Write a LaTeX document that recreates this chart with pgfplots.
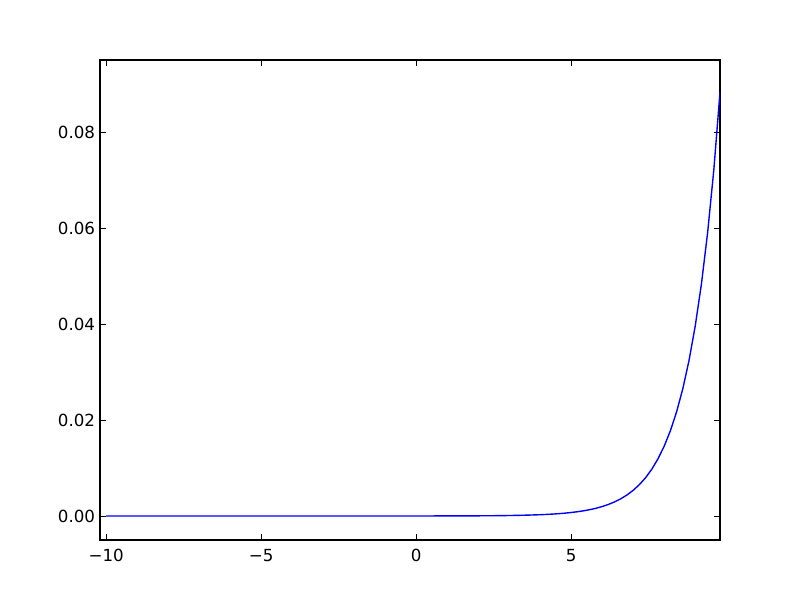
\documentclass[border=0pt]{standalone}
\usepackage{pgfplots}
\pgfplotsset{compat=1.18}
\usepackage{fontspec}
\setmainfont{DejaVu Sans}

\begin{document}
\begin{tikzpicture}
  \begin{axis}[
      scale only axis,
      width=446.4pt, height=345.6pt,
      xmin=-10.2, xmax=9.8,
      ymin=-0.005, ymax=0.095,
      xtick={-10,-5,0,5},
      xticklabels={−10,−5,0,5},
      ytick={0,0.02,0.04,0.06,0.08},
      tick align=inside,
      tick pos=both,
      major tick length=4pt,
      axis line style={line width=0.8pt},
      tick style={black, line width=0.6pt},
      tick label style={font=\fontsize{12}{14}\selectfont},
      xticklabel style={yshift=-3pt},
      /pgf/number format/assume math mode=true,
      yticklabel style={/pgf/number format/.cd, fixed, fixed zerofill, precision=2},
      scaled y ticks=false,
    ]
    \addplot[color=blue, line width=1pt] coordinates {
      (-10.0, 0.000000)
      (-5.0, 0.0000000)
      (0.0, 0.000005)
      (1.0, 0.000013)
      (2.0, 0.000036)
      (2.4, 0.000054)
      (2.8, 0.000080)
      (3.2, 0.000120)
      (3.6, 0.000178)
      (4.0, 0.000266)
      (4.2, 0.000325)
      (4.4, 0.000397)
      (4.6, 0.000485)
      (4.8, 0.000593)
      (5.0, 0.000724)
      (5.2, 0.000885)
      (5.4, 0.001080)
      (5.6, 0.001319)
      (5.8, 0.001612)
      (6.0, 0.001969)
      (6.2, 0.002404)
      (6.4, 0.002937)
      (6.6, 0.003587)
      (6.8, 0.004381)
      (7.0, 0.005351)
      (7.2, 0.006536)
      (7.4, 0.007983)
      (7.6, 0.009750)
      (7.8, 0.011909)
      (8.0, 0.014546)
      (8.2, 0.017767)
      (8.4, 0.021700)
      (8.6, 0.026505)
      (8.8, 0.032373)
      (9.0, 0.039541)
      (9.2, 0.048296)
      (9.4, 0.058988)
      (9.6, 0.072048)
      (9.8, 0.088300)
    };
  \end{axis}
  \path (current axis.south west) ++(-72pt,-43.2pt) coordinate (bl);
  \path (current axis.north east) ++(57.6pt,43.2pt) coordinate (tr);
  \path[use as bounding box] (bl) rectangle (tr);
\end{tikzpicture}
\end{document}
